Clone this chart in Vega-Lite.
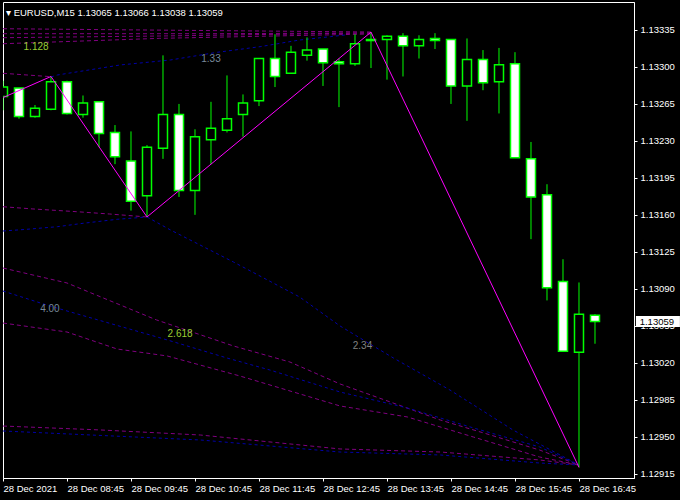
{
  "$schema": "https://vega.github.io/schema/vega-lite/v6.json",
  "width": 631,
  "height": 476,
  "autosize": {"type": "none"},
  "padding": {"left": 3, "top": 2, "right": 46, "bottom": 22},
  "background": "#000000",
  "config": {
    "view": {"stroke": "#ffffff", "strokeWidth": 1},
    "axis": {
      "grid": false,
      "labelColor": "#ffffff",
      "labelFont": "Liberation Sans",
      "labelFontSize": 9.5,
      "labelOverlap": false,
      "labelBound": false,
      "labelFlush": false,
      "domainColor": "#ffffff",
      "tickColor": "#ffffff",
      "tickSize": 3,
      "domainWidth": 1,
      "tickWidth": 1
    },
    "axisY": {"labelOverlap": false},
    "axisQuantitative": {"labelOverlap": false}
  },
  "title": {
    "text": "▾   EURUSD,M15   1.13065 1.13066 1.13038 1.13059",
    "anchor": "start",
    "frame": "group",
    "orient": "top",
    "offset": -23,
    "dx": 3,
    "baseline": "alphabetic",
    "font": "Liberation Sans",
    "fontSize": 9.5,
    "fontWeight": "normal",
    "color": "#ffffff"
  },
  "datasets": {
    "candles": [
      {"t": "2021-12-28T07:45", "open": 1.13272, "high": 1.13287, "low": 1.13259, "close": 1.13281},
      {"t": "2021-12-28T08:00", "open": 1.13280, "high": 1.13280, "low": 1.13251, "close": 1.13253},
      {"t": "2021-12-28T08:15", "open": 1.13253, "high": 1.13264, "low": 1.13252, "close": 1.13261},
      {"t": "2021-12-28T08:30", "open": 1.13260, "high": 1.13291, "low": 1.13259, "close": 1.13286},
      {"t": "2021-12-28T08:45", "open": 1.13286, "high": 1.13287, "low": 1.13255, "close": 1.13256},
      {"t": "2021-12-28T09:00", "open": 1.13255, "high": 1.13273, "low": 1.13252, "close": 1.13266},
      {"t": "2021-12-28T09:15", "open": 1.13267, "high": 1.13267, "low": 1.13224, "close": 1.13237},
      {"t": "2021-12-28T09:30", "open": 1.13238, "high": 1.13245, "low": 1.13208, "close": 1.13215},
      {"t": "2021-12-28T09:45", "open": 1.13211, "high": 1.13239, "low": 1.13164, "close": 1.13173},
      {"t": "2021-12-28T10:00", "open": 1.13178, "high": 1.13226, "low": 1.13158, "close": 1.13224},
      {"t": "2021-12-28T10:15", "open": 1.13223, "high": 1.13311, "low": 1.13213, "close": 1.13255},
      {"t": "2021-12-28T10:30", "open": 1.13255, "high": 1.13265, "low": 1.13177, "close": 1.13183},
      {"t": "2021-12-28T10:45", "open": 1.13183, "high": 1.13241, "low": 1.13160, "close": 1.13234},
      {"t": "2021-12-28T11:00", "open": 1.13231, "high": 1.13267, "low": 1.13208, "close": 1.13242},
      {"t": "2021-12-28T11:15", "open": 1.13240, "high": 1.13292, "low": 1.13238, "close": 1.13251},
      {"t": "2021-12-28T11:30", "open": 1.13255, "high": 1.13274, "low": 1.13234, "close": 1.13266},
      {"t": "2021-12-28T11:45", "open": 1.13268, "high": 1.13308, "low": 1.13263, "close": 1.13308},
      {"t": "2021-12-28T12:00", "open": 1.13308, "high": 1.13331, "low": 1.13281, "close": 1.13291},
      {"t": "2021-12-28T12:15", "open": 1.13294, "high": 1.13320, "low": 1.13294, "close": 1.13314},
      {"t": "2021-12-28T12:30", "open": 1.13311, "high": 1.13328, "low": 1.13306, "close": 1.13316},
      {"t": "2021-12-28T12:45", "open": 1.13317, "high": 1.13317, "low": 1.13282, "close": 1.13304},
      {"t": "2021-12-28T13:00", "open": 1.13305, "high": 1.13308, "low": 1.13262, "close": 1.13303},
      {"t": "2021-12-28T13:15", "open": 1.13303, "high": 1.13331, "low": 1.13301, "close": 1.13322},
      {"t": "2021-12-28T13:30", "open": 1.13325, "high": 1.13333, "low": 1.13299, "close": 1.13326},
      {"t": "2021-12-28T13:45", "open": 1.13326, "high": 1.13330, "low": 1.13288, "close": 1.13329},
      {"t": "2021-12-28T14:00", "open": 1.13329, "high": 1.13332, "low": 1.13291, "close": 1.13320},
      {"t": "2021-12-28T14:15", "open": 1.13320, "high": 1.13330, "low": 1.13308, "close": 1.13326},
      {"t": "2021-12-28T14:30", "open": 1.13327, "high": 1.13332, "low": 1.13317, "close": 1.13325},
      {"t": "2021-12-28T14:45", "open": 1.13326, "high": 1.13326, "low": 1.13265, "close": 1.13282},
      {"t": "2021-12-28T15:00", "open": 1.13282, "high": 1.13327, "low": 1.13249, "close": 1.13307},
      {"t": "2021-12-28T15:15", "open": 1.13307, "high": 1.13316, "low": 1.13278, "close": 1.13285},
      {"t": "2021-12-28T15:30", "open": 1.13286, "high": 1.13318, "low": 1.13256, "close": 1.13302},
      {"t": "2021-12-28T15:45", "open": 1.13303, "high": 1.13314, "low": 1.13214, "close": 1.13214},
      {"t": "2021-12-28T16:00", "open": 1.13213, "high": 1.13229, "low": 1.13137, "close": 1.13177},
      {"t": "2021-12-28T16:15", "open": 1.13179, "high": 1.13189, "low": 1.13079, "close": 1.13091},
      {"t": "2021-12-28T16:30", "open": 1.13097, "high": 1.13118, "low": 1.13031, "close": 1.13031},
      {"t": "2021-12-28T16:45", "open": 1.13030, "high": 1.13096, "low": 1.12921, "close": 1.13066},
      {"t": "2021-12-28T17:00", "open": 1.13065, "high": 1.13066, "low": 1.13038, "close": 1.13059}
    ],
    "zigzag": [
      {"t": "2021-12-28T07:45", "p": 1.13271},
      {"t": "2021-12-28T08:30", "p": 1.13291},
      {"t": "2021-12-28T10:00", "p": 1.13158},
      {"t": "2021-12-28T13:30", "p": 1.13333},
      {"t": "2021-12-28T16:45", "p": 1.12921}
    ],
    "fans": [
      {"id": "T1", "kind": "purple", "t": "2021-12-28T07:45", "p": 1.133362},
      {"id": "T1", "kind": "purple", "t": "2021-12-28T13:30", "p": 1.133331},
      {"id": "T2", "kind": "purple", "t": "2021-12-28T07:45", "p": 1.133315},
      {"id": "T2", "kind": "purple", "t": "2021-12-28T11:08", "p": 1.133315},
      {"id": "T2", "kind": "purple", "t": "2021-12-28T13:30", "p": 1.133322},
      {"id": "T3", "kind": "purple", "t": "2021-12-28T07:45", "p": 1.133277},
      {"id": "T3", "kind": "purple", "t": "2021-12-28T10:12", "p": 1.133293},
      {"id": "T3", "kind": "purple", "t": "2021-12-28T13:30", "p": 1.133322},
      {"id": "T4", "kind": "purple", "t": "2021-12-28T07:45", "p": 1.133220},
      {"id": "T4", "kind": "purple", "t": "2021-12-28T10:12", "p": 1.133271},
      {"id": "T4", "kind": "purple", "t": "2021-12-28T13:30", "p": 1.133312},
      {"id": "A0", "kind": "purple", "t": "2021-12-28T07:45", "p": 1.132940},
      {"id": "A0", "kind": "purple", "t": "2021-12-28T08:30", "p": 1.132908},
      {"id": "A1", "kind": "blue", "t": "2021-12-28T08:30", "p": 1.132905},
      {"id": "A1", "kind": "blue", "t": "2021-12-28T08:36", "p": 1.132924},
      {"id": "A1", "kind": "blue", "t": "2021-12-28T09:35", "p": 1.133019},
      {"id": "A1", "kind": "blue", "t": "2021-12-28T10:22", "p": 1.133066},
      {"id": "A1", "kind": "blue", "t": "2021-12-28T11:06", "p": 1.133139},
      {"id": "A1", "kind": "blue", "t": "2021-12-28T11:46", "p": 1.133192},
      {"id": "A1", "kind": "blue", "t": "2021-12-28T12:23", "p": 1.133255},
      {"id": "A1", "kind": "blue", "t": "2021-12-28T12:52", "p": 1.133287},
      {"id": "A1", "kind": "blue", "t": "2021-12-28T13:06", "p": 1.133303},
      {"id": "L1", "kind": "purple", "t": "2021-12-28T07:45", "p": 1.131677},
      {"id": "L1", "kind": "purple", "t": "2021-12-28T08:13", "p": 1.131656},
      {"id": "L1", "kind": "purple", "t": "2021-12-28T08:54", "p": 1.131630},
      {"id": "L1", "kind": "purple", "t": "2021-12-28T09:25", "p": 1.131608},
      {"id": "L1", "kind": "purple", "t": "2021-12-28T10:00", "p": 1.131580},
      {"id": "L2", "kind": "blue", "t": "2021-12-28T07:45", "p": 1.131447},
      {"id": "L2", "kind": "blue", "t": "2021-12-28T08:07", "p": 1.131463},
      {"id": "L2", "kind": "blue", "t": "2021-12-28T08:36", "p": 1.131488},
      {"id": "L2", "kind": "blue", "t": "2021-12-28T09:00", "p": 1.131520},
      {"id": "L2", "kind": "blue", "t": "2021-12-28T09:32", "p": 1.131558},
      {"id": "L2", "kind": "blue", "t": "2021-12-28T10:00", "p": 1.131580},
      {"id": "B0", "kind": "blue", "t": "2021-12-28T10:00", "p": 1.131580},
      {"id": "B0", "kind": "blue", "t": "2021-12-28T10:22", "p": 1.131457},
      {"id": "B0", "kind": "blue", "t": "2021-12-28T11:21", "p": 1.131154},
      {"id": "B0", "kind": "blue", "t": "2021-12-28T12:23", "p": 1.130823},
      {"id": "B0", "kind": "blue", "t": "2021-12-28T13:01", "p": 1.130548},
      {"id": "B0", "kind": "blue", "t": "2021-12-28T13:51", "p": 1.130245},
      {"id": "B0", "kind": "blue", "t": "2021-12-28T14:44", "p": 1.129942},
      {"id": "B0", "kind": "blue", "t": "2021-12-28T15:43", "p": 1.129564},
      {"id": "B0", "kind": "blue", "t": "2021-12-28T16:45", "p": 1.129232},
      {"id": "P1", "kind": "purple", "t": "2021-12-28T07:45", "p": 1.131097},
      {"id": "P1", "kind": "purple", "t": "2021-12-28T08:45", "p": 1.130955},
      {"id": "P1", "kind": "purple", "t": "2021-12-28T10:09", "p": 1.130605},
      {"id": "P1", "kind": "purple", "t": "2021-12-28T11:21", "p": 1.130359},
      {"id": "P1", "kind": "purple", "t": "2021-12-28T12:14", "p": 1.130207},
      {"id": "P1", "kind": "purple", "t": "2021-12-28T13:01", "p": 1.129999},
      {"id": "P1", "kind": "purple", "t": "2021-12-28T13:48", "p": 1.129829},
      {"id": "P1", "kind": "purple", "t": "2021-12-28T14:35", "p": 1.129658},
      {"id": "P1", "kind": "purple", "t": "2021-12-28T15:22", "p": 1.129516},
      {"id": "P1", "kind": "purple", "t": "2021-12-28T16:08", "p": 1.129374},
      {"id": "P1", "kind": "purple", "t": "2021-12-28T16:45", "p": 1.129232},
      {"id": "B1", "kind": "blue", "t": "2021-12-28T07:45", "p": 1.130879},
      {"id": "B1", "kind": "blue", "t": "2021-12-28T08:29", "p": 1.130737},
      {"id": "B1", "kind": "blue", "t": "2021-12-28T10:19", "p": 1.130416},
      {"id": "B1", "kind": "blue", "t": "2021-12-28T11:15", "p": 1.130245},
      {"id": "B1", "kind": "blue", "t": "2021-12-28T11:55", "p": 1.130132},
      {"id": "B1", "kind": "blue", "t": "2021-12-28T13:01", "p": 1.129923},
      {"id": "B1", "kind": "blue", "t": "2021-12-28T14:04", "p": 1.129772},
      {"id": "B1", "kind": "blue", "t": "2021-12-28T15:06", "p": 1.129583},
      {"id": "B1", "kind": "blue", "t": "2021-12-28T16:08", "p": 1.129403},
      {"id": "B1", "kind": "blue", "t": "2021-12-28T16:45", "p": 1.129232},
      {"id": "P2", "kind": "purple", "t": "2021-12-28T07:45", "p": 1.130576},
      {"id": "P2", "kind": "purple", "t": "2021-12-28T08:45", "p": 1.130491},
      {"id": "P2", "kind": "purple", "t": "2021-12-28T09:32", "p": 1.130330},
      {"id": "P2", "kind": "purple", "t": "2021-12-28T10:19", "p": 1.130264},
      {"id": "P2", "kind": "purple", "t": "2021-12-28T11:27", "p": 1.130075},
      {"id": "P2", "kind": "purple", "t": "2021-12-28T13:01", "p": 1.129791},
      {"id": "P2", "kind": "purple", "t": "2021-12-28T14:04", "p": 1.129687},
      {"id": "P2", "kind": "purple", "t": "2021-12-28T15:06", "p": 1.129497},
      {"id": "P2", "kind": "purple", "t": "2021-12-28T16:08", "p": 1.129308},
      {"id": "P2", "kind": "purple", "t": "2021-12-28T16:45", "p": 1.129232},
      {"id": "P3", "kind": "purple", "t": "2021-12-28T07:45", "p": 1.129601},
      {"id": "P3", "kind": "purple", "t": "2021-12-28T09:16", "p": 1.129564},
      {"id": "P3", "kind": "purple", "t": "2021-12-28T10:50", "p": 1.129516},
      {"id": "P3", "kind": "purple", "t": "2021-12-28T13:01", "p": 1.129384},
      {"id": "P3", "kind": "purple", "t": "2021-12-28T14:35", "p": 1.129355},
      {"id": "P3", "kind": "purple", "t": "2021-12-28T16:08", "p": 1.129280},
      {"id": "P3", "kind": "purple", "t": "2021-12-28T16:45", "p": 1.129232},
      {"id": "B2", "kind": "blue", "t": "2021-12-28T07:45", "p": 1.129554},
      {"id": "B2", "kind": "blue", "t": "2021-12-28T10:50", "p": 1.129469},
      {"id": "B2", "kind": "blue", "t": "2021-12-28T13:01", "p": 1.129355},
      {"id": "B2", "kind": "blue", "t": "2021-12-28T14:35", "p": 1.129327},
      {"id": "B2", "kind": "blue", "t": "2021-12-28T16:08", "p": 1.129251},
      {"id": "B2", "kind": "blue", "t": "2021-12-28T16:45", "p": 1.129232}
    ],
    "labels": [
      {"label": "1.128", "t": "2021-12-28T08:16", "p": 1.133189},
      {"label": "1.33", "t": "2021-12-28T11:00", "p": 1.133075},
      {"label": "4.00", "t": "2021-12-28T08:29", "p": 1.130709},
      {"label": "2.618", "t": "2021-12-28T10:31", "p": 1.130472},
      {"label": "2.34", "t": "2021-12-28T13:22", "p": 1.130359}
    ],
    "tag": [
      {"label": "1.13059", "p": 1.13059}
    ]
  },
  "layer": [
    {
      "data": {"name": "fans"},
      "transform": [{"filter": "datum.kind == 'purple'"}],
      "mark": {"type": "line", "stroke": "#800080", "strokeWidth": 1, "strokeDash": [4, 3], "clip": true},
      "encoding": {
        "x": {
          "field": "t", "type": "temporal", "title": null,
          "scale": {"domain": [
            {"year": 2021, "month": 12, "date": 28, "hours": 7, "minutes": 45},
            {"year": 2021, "month": 12, "date": 28, "hours": 17, "minutes": 36, "seconds": 34}
          ], "padding": 0, "nice": false},
          "axis": {
            "orient": "bottom",
            "values": [
              {"year": 2021, "month": 12, "date": 28, "hours": 7, "minutes": 45},
              {"year": 2021, "month": 12, "date": 28, "hours": 8, "minutes": 45},
              {"year": 2021, "month": 12, "date": 28, "hours": 9, "minutes": 45},
              {"year": 2021, "month": 12, "date": 28, "hours": 10, "minutes": 45},
              {"year": 2021, "month": 12, "date": 28, "hours": 11, "minutes": 45},
              {"year": 2021, "month": 12, "date": 28, "hours": 12, "minutes": 45},
              {"year": 2021, "month": 12, "date": 28, "hours": 13, "minutes": 45},
              {"year": 2021, "month": 12, "date": 28, "hours": 14, "minutes": 45},
              {"year": 2021, "month": 12, "date": 28, "hours": 15, "minutes": 45},
              {"year": 2021, "month": 12, "date": 28, "hours": 16, "minutes": 45}
            ],
            "labelExpr": "hours(datum.value) == 7 ? '28 Dec 2021' : timeFormat(datum.value, '%d %b %H:%M')",
            "labelAlign": "left",
            "labelPadding": 2,
            "labelOverlap": false
          }
        },
        "y": {
          "field": "p", "type": "quantitative", "title": null,
          "scale": {"domain": [1.129109, 1.133615], "nice": false, "zero": false, "padding": 0},
          "axis": {
            "orient": "right",
            "values": [1.12915, 1.1295, 1.12985, 1.1302, 1.13055, 1.1309, 1.13125, 1.1316, 1.13195, 1.1323, 1.13265, 1.133, 1.13335],
            "format": ".5f",
            "labelPadding": 3,
            "labelOverlap": false
          }
        },
        "detail": {"field": "id"}
      }
    },
    {
      "data": {"name": "fans"},
      "transform": [{"filter": "datum.kind == 'blue'"}],
      "mark": {"type": "line", "stroke": "#0000a8", "strokeWidth": 1, "strokeDash": [3, 3], "clip": true},
      "encoding": {
        "x": {"field": "t", "type": "temporal", "title": null},
        "y": {"field": "p", "type": "quantitative", "title": null, "axis": {"orient": "right", "values": [1.12915, 1.1295, 1.12985, 1.1302, 1.13055, 1.1309, 1.13125, 1.1316, 1.13195, 1.1323, 1.13265, 1.133, 1.13335], "format": ".5f", "labelPadding": 3, "labelOverlap": false}},
        "detail": {"field": "id"}
      }
    },
    {
      "data": {"name": "candles"},
      "mark": {"type": "rule", "stroke": "#00ff00", "strokeWidth": 1, "clip": true},
      "encoding": {
        "x": {"field": "t", "type": "temporal", "title": null},
        "y": {"field": "low", "type": "quantitative", "title": null, "axis": {"orient": "right", "values": [1.12915, 1.1295, 1.12985, 1.1302, 1.13055, 1.1309, 1.13125, 1.1316, 1.13195, 1.1323, 1.13265, 1.133, 1.13335], "format": ".5f", "labelPadding": 3, "labelOverlap": false}},
        "y2": {"field": "high"}
      }
    },
    {
      "data": {"name": "candles"},
      "mark": {"type": "bar", "size": 9, "stroke": "#00ff00", "strokeWidth": 1.5, "clip": true},
      "encoding": {
        "x": {"field": "t", "type": "temporal", "title": null},
        "y": {"field": "open", "type": "quantitative", "title": null, "axis": {"orient": "right", "values": [1.12915, 1.1295, 1.12985, 1.1302, 1.13055, 1.1309, 1.13125, 1.1316, 1.13195, 1.1323, 1.13265, 1.133, 1.13335], "format": ".5f", "labelPadding": 3, "labelOverlap": false}},
        "y2": {"field": "close"},
        "fill": {"condition": {"test": "datum.close < datum.open", "value": "#ffffff"}, "value": "#000000"}
      }
    },
    {
      "data": {"name": "zigzag"},
      "mark": {"type": "line", "stroke": "#ff00ff", "strokeWidth": 1, "clip": true},
      "encoding": {
        "x": {"field": "t", "type": "temporal", "title": null},
        "y": {"field": "p", "type": "quantitative", "title": null, "axis": {"orient": "right", "values": [1.12915, 1.1295, 1.12985, 1.1302, 1.13055, 1.1309, 1.13125, 1.1316, 1.13195, 1.1323, 1.13265, 1.133, 1.13335], "format": ".5f", "labelPadding": 3, "labelOverlap": false}}
      }
    },
    {
      "data": {"name": "labels"},
      "mark": {"type": "text", "font": "Liberation Sans", "fontSize": 10, "align": "center", "baseline": "middle"},
      "encoding": {
        "x": {"field": "t", "type": "temporal", "title": null},
        "y": {"field": "p", "type": "quantitative", "title": null, "axis": {"orient": "right", "values": [1.12915, 1.1295, 1.12985, 1.1302, 1.13055, 1.1309, 1.13125, 1.1316, 1.13195, 1.1323, 1.13265, 1.133, 1.13335], "format": ".5f", "labelPadding": 3, "labelOverlap": false}},
        "text": {"field": "label"},
        "color": {
          "condition": [
            {"test": "datum.label == '1.128' || datum.label == '2.618'", "value": "#9acd32"},
            {"test": "datum.label == '2.34'", "value": "#808080"}
          ],
          "value": "#778899"
        }
      }
    },
    {
      "data": {"name": "tag"},
      "mark": {"type": "point", "shape": "M-1,-0.25H1V0.25H-1Z", "size": 1936, "filled": true, "fill": "#ffffff", "opacity": 1, "strokeWidth": 0, "clip": false},
      "encoding": {
        "x": {"datum": {"year": 2021, "month": 12, "date": 28, "hours": 17, "minutes": 59}, "type": "temporal", "title": null},
        "y": {"field": "p", "type": "quantitative", "title": null, "axis": {"orient": "right", "values": [1.12915, 1.1295, 1.12985, 1.1302, 1.13055, 1.1309, 1.13125, 1.1316, 1.13195, 1.1323, 1.13265, 1.133, 1.13335], "format": ".5f", "labelPadding": 3, "labelOverlap": false}}
      }
    },
    {
      "data": {"name": "tag"},
      "mark": {"type": "text", "font": "Liberation Sans", "fontSize": 9.5, "color": "#000000", "align": "center", "baseline": "middle", "clip": false},
      "encoding": {
        "x": {"datum": {"year": 2021, "month": 12, "date": 28, "hours": 17, "minutes": 58}, "type": "temporal", "title": null},
        "y": {"field": "p", "type": "quantitative", "title": null, "axis": {"orient": "right", "values": [1.12915, 1.1295, 1.12985, 1.1302, 1.13055, 1.1309, 1.13125, 1.1316, 1.13195, 1.1323, 1.13265, 1.133, 1.13335], "format": ".5f", "labelPadding": 3, "labelOverlap": false}},
        "text": {"field": "label"}
      }
    }
  ]
}
